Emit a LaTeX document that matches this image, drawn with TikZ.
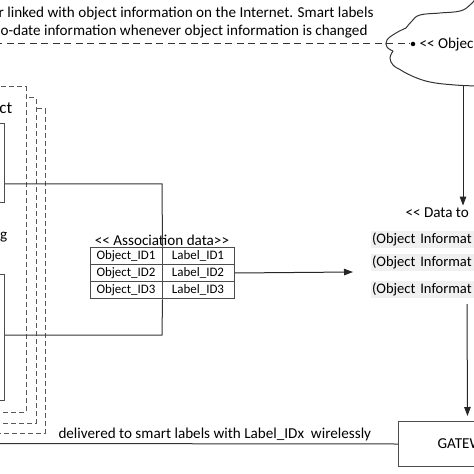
\documentclass[tikz,border=0pt]{standalone}
\usepackage{fontspec}
\setmainfont{Carlito}
\usetikzlibrary{positioning}
\usetikzlibrary{arrows.meta}

\tikzset{
    cell/.style={draw=black!70, minimum width=72bp, minimum height=17.3bp, inner sep=0pt, font=\fontsize{13}{15}\selectfont},
    datarow/.style={fill=black!6, anchor=west, minimum height=17bp, text width=110bp, align=left, inner sep=1.5bp, font=\fontsize{14.6}{17}\selectfont},
    objbox/.style={draw=black!70, fill=white, minimum width=60bp, anchor=north east},
    stackframe/.style={draw=black!65, dash pattern=on 5bp off 3bp, fill=white},
    flow/.style={draw=black!85, -{Triangle[length=9bp,width=6.5bp]}},
    wire/.style={draw=black!80},
    plain/.style={inner sep=0pt},
}

\begin{document}
\begin{tikzpicture}[x=1bp, y=-1bp, font=\fontsize{15.2}{18}\selectfont, line width=1bp]
    \useasboundingbox (0,0) rectangle (474,474);
    \clip (0,0) rectangle (474,474);

    % Draw stacked object frames
    \foreach \r/\t/\b in {45/109/433, 36/98/423, 26/87/412} {
        \draw[stackframe] (-40,\t) rectangle (\r,\b);
    }

    % Object boxes and labels
    \node[objbox, minimum height=79bp] (objA) at (5,123) {};
    \node[objbox, minimum height=126bp] (objB) at (5,274) {};
    \node[plain, anchor=west, font=\fontsize{17}{20}\selectfont] (objtitle) at (-1,108) {ct};
    \node[plain, anchor=west] (objing) at (-0.5,237) {g};

    % Notes along the dashed link
    \node[plain, anchor=east] (note1) at (374,14) {r linked with object information on the Internet. Smart labels};
    \node[plain, anchor=east] (note2) at (368,32) {o-date information whenever object information is changed};

    % Cloud
    \draw[black!80] plot[smooth, tension=0.7] coordinates {(478,-4) (470,5) (460,11) (440,13) (420,15) (412,21) (406,28)};
    \draw[black!80] plot[smooth, tension=0.7] coordinates {(406,28) (396,33) (387,40) (387,47) (393,51)};
    \draw[black!80] plot[smooth, tension=0.7] coordinates {(393,51) (390,58) (393,65) (399,69)};
    \draw[black!80] plot[smooth, tension=0.7] coordinates {(399,69) (412,76) (430,82) (455,85) (478,86)};

    \coordinate (dashstart) at (-5,44);
    \node[circle, fill=black, inner sep=0pt, minimum size=4.5bp] (objdot) at (413,44) {};
    \draw[black!80, dash pattern=on 7bp off 4.5bp] (dashstart) -- (objdot);
    \node[plain, anchor=west] (objref) at (419,45) {<{}< Objec};

    % Data to smart labels
    \coordinate (cloudfoot) at (463,86);
    \node[plain, anchor=west] (datahead) at (405,213) {<{}< Data to};
    \draw[flow, shorten >=2bp] (cloudfoot) -- (cloudfoot |- datahead.north);
    \foreach \i/\y in {1/239, 2/262, 3/289} {
        \node[datarow] (d\i) at (370,\y) {(Object Informat};
    }

    % Association table
    \node[anchor=south, inner sep=1bp] (assoc) at (162,247) {<{}< Association data>{}>};
    \foreach \i/\y in {1/255.7, 2/273, 3/290.3} {
        \node[cell] (o\i) at (126,\y) {Object\_ID\i};
        \node[cell] (l\i) at (198,\y) {Label\_ID\i};
    }

    \coordinate (upjoin) at (162,184);
    \coordinate (lowjoin) at (162,335);
    \draw[wire] (upjoin -| objA.east) -- (upjoin) -- (o1.north east);
    \draw[wire] (lowjoin -| objB.east) -- (lowjoin) -- (o3.south east);

    \coordinate (assocout) at (353,272);
    \draw[flow] (l2.east) -- (assocout);

    % Gateway
    \node[draw=black!70, minimum width=138bp, minimum height=45bp, anchor=north west] (gw) at (398,421) {GATEWAY};
    \coordinate (gwin) at (467,304);
    \draw[flow, shorten >=5bp] (gwin) -- (gw.north);

    \coordinate (gwleft) at (-5,443.5);
    \draw[wire] (gwleft) -- (gw.west);
    \node[plain, anchor=base west] (deliver) at (58,438) {delivered to smart labels with Label\_IDx\ \ wirelessly};

\end{tikzpicture}
\end{document}
